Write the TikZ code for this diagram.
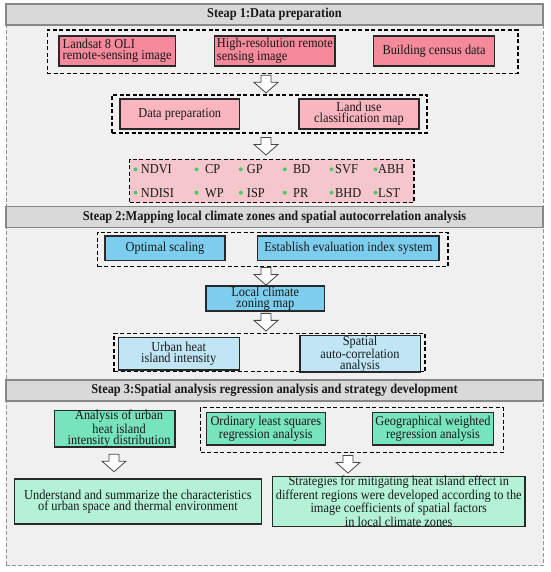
\documentclass[tikz,border=0pt]{standalone}
\usepackage{fontspec}
\setmainfont{Liberation Serif}[FakeStretch=0.91]
\usetikzlibrary{calc}
\usepackage{xcolor}
\definecolor{srcpink}{RGB}{244, 138, 155}
\definecolor{preppink}{RGB}{250, 182, 192}
\definecolor{idxpink}{RGB}{245, 199, 205}
\definecolor{zoneblue}{RGB}{125, 205, 238}
\definecolor{resblue}{RGB}{192, 230, 246}
\definecolor{regmint}{RGB}{120, 228, 190}
\definecolor{outmint}{RGB}{180, 242, 216}
\definecolor{headergray}{RGB}{217, 217, 217}
\definecolor{headerline}{RGB}{135, 135, 135}
\definecolor{panelgray}{RGB}{240, 240, 240}
\definecolor{panelline}{RGB}{150, 150, 150}
\definecolor{boxline}{RGB}{40, 40, 40}
\definecolor{arrowgray}{RGB}{70, 70, 70}
\definecolor{dotgreen}{RGB}{70, 205, 100}
\definecolor{textdark}{RGB}{25, 25, 25}

\begin{document}
\begin{tikzpicture}[
    x=1pt, y=-1pt,
    font=\fontsize{13.6}{10.8}\selectfont,
    text=textdark,
    panel/.style={rectangle, draw=panelline, dash pattern=on 4pt off 2pt, line width=0.8pt, fill=panelgray, inner sep=0pt, minimum width=537pt},
    header/.style={rectangle, draw=headerline, line width=1.2pt, fill=headergray, inner sep=0pt, minimum width=537pt, minimum height=21pt, font=\fontsize{13.6}{10.8}\selectfont\bfseries},
    group/.style={rectangle, draw=black, dash pattern=on 4pt off 2.5pt, line width=1.2pt, inner sep=0pt},
    box/.style={rectangle, draw=boxline, line width=1.3pt, inner xsep=1pt, inner ysep=0pt, align=center},
    dot/.style={circle, fill=dotgreen, minimum size=4pt, inner sep=0pt},
    item/.style={anchor=west, inner sep=0pt, label={[dot, label distance=#1]left:{}}},
    flowarrow/.pic={
        \draw[line width=0.8pt, draw=arrowgray, fill=white] (-5,-8.8) -- (5,-8.8) -- (5,-1.8) -- (12,-1.8) -- (0,8.8) -- (-12,-1.8) -- (-5,-1.8) -- cycle;
    },
]
\useasboundingbox (0,0) rectangle (550,572);

% Panels
\node[panel, minimum height=181pt] (body1) at (274.5,115.5) {};
\node[header] (hdr1) at (274.5,14.5) {Steap 1:Data preparation};
\node[panel, minimum height=152.5pt] (body2) at (274.5,303.75) {};
\node[header] (hdr2) at (274.5,217) {Steap 2:Mapping local climate zones and spatial autocorrelation analysis};
\node[panel, minimum height=164.5pt] (body3) at (274.5,483.25) {};
\node[header] (hdr3) at (274.5,390.5) {Steap 3:Spatial analysis regression analysis and strategy development};

\coordinate (axisA) at (266,0);
\coordinate (axisL) at (114,0);
\coordinate (axisR) at (348,0);

% Step 1: sources
\node[group, minimum width=470.6pt, minimum height=43.3pt] (srcgroup) at (282.7,51.65) {};
\node[box, fill=srcpink, minimum width=116.4pt, minimum height=30pt, align=left] (landsat) at (117.2,51) {Landsat 8 OLI\\remote-sensing image};
\node[box, fill=srcpink, minimum width=120.3pt, minimum height=30pt, align=left] (highres) at (274.85,51) {High-resolution remote\\sensing image};
\node[box, fill=srcpink, minimum width=121pt, minimum height=30pt] (census) at (434.1,51) {Building census data};

% Step 1: preparation
\node[group, minimum width=315pt, minimum height=38pt] (prepgroup) at (269.5,114) {};
\node[box, fill=preppink, minimum width=119.5pt, minimum height=30pt] (dataprep) at (179.75,114) {Data preparation};
\node[box, fill=preppink, minimum width=120pt, minimum height=30pt] (landuse) at (359,114) {Land use\\classification map};

% Step 1: indices
\node[group, fill=idxpink, minimum width=284.2pt, minimum height=43.2pt] (indices) at (271.9,181.1) {};
\node[item=3pt] (ndvi) at (140.7,169.3) {NDVI};
\node[item=6.3pt] (cp) at (205,169.3) {CP};
\node[item=3.7pt] (gp) at (246.7,169.3) {GP};
\node[item=6pt] (bd) at (293,169.3) {BD};
\node[item=1.3pt] (svf) at (335,169.3) {SVF};
\node[item=0.2pt] (abh) at (378,169.3) {ABH};
\node[item=3pt] (ndisi) at (140.7,192.7) {NDISI};
\node[item=6.3pt] (wp) at (205,192.7) {WP};
\node[item=3.7pt] (isp) at (246.7,192.7) {ISP};
\node[item=6pt] (pr) at (293,192.7) {PR};
\node[item=1.3pt] (bhd) at (335,192.7) {BHD};
\node[item=0.2pt] (lst) at (378,192.7) {LST};

\pic at ($(srcgroup.south -| axisA)!0.5!(prepgroup.north -| axisA)$) {flowarrow};
\pic at ($(prepgroup.south -| axisA)!0.5!(indices.north -| axisA)$) {flowarrow};

% Step 2: zoning
\node[group, minimum width=350.5pt, minimum height=34.4pt] (zonegroup) at (272.75,249.5) {};
\node[box, fill=zoneblue, minimum width=120pt, minimum height=24.7pt] (scaling) at (165,248.35) {Optimal scaling};
\node[box, fill=zoneblue, minimum width=181.2pt, minimum height=24.7pt] (indexsys) at (348.4,248.35) {Establish evaluation index system};
\node[box, fill=zoneblue, minimum width=118.4pt, minimum height=25pt] (lczmap) at (265.2,298.5) {Local climate\\zoning map};

% Step 2: results
\node[group, minimum width=311pt, minimum height=38.4pt] (resgroup) at (269.5,352.5) {};
\node[box, fill=resblue, minimum width=121pt, minimum height=32.3pt] (uhi) at (178.7,353.85) {Urban heat\\island intensity};
\node[box, fill=resblue, minimum width=120.3pt, minimum height=32.3pt] (autocorr) at (360,353.85) {Spatial\\auto-correlation\\analysis};

\pic at ($(zonegroup.south -| axisA)!0.5!(lczmap.north -| axisA)$) {flowarrow};
\pic at ($(lczmap.south -| axisA)!0.5!(resgroup.north -| axisA)$) {flowarrow};

% Step 3: analysis
\node[box, fill=regmint, minimum width=120.8pt, minimum height=33.8pt] (distrib) at (114.6,428.6) {\hspace{9pt}Analysis of urban\\\hspace{9pt}heat island\\\hspace{9pt}intensity distribution};
\node[group, minimum width=302.7pt, minimum height=44.6pt] (reggroup) at (351.95,430) {};
\node[box, fill=regmint, minimum width=119.3pt, minimum height=32.3pt] (ols) at (265.85,428.85) {Ordinary least squares\\regression analysis};
\node[box, fill=regmint, minimum width=121pt, minimum height=32.3pt] (gwr) at (433,428.85) {Geographical weighted\\regression analysis};

% Step 3: outcomes
\node[box, fill=outmint, minimum width=246.8pt, minimum height=45pt] (understand) at (137.9,501.5) {Understand and summarize the characteristics\\of urban space and thermal environment\hspace{9pt}};
\node[box, fill=outmint, minimum width=252.5pt, minimum height=44.5pt] (strategy) at (398.75,501.25) {Strategies for mitigating heat island effect in\\different regions were developed according to the\\image coefficients of spatial factors\\in local climate zones};

\pic at ($(distrib.south -| axisL)!0.5!(understand.north -| axisL)$) {flowarrow};
\pic at ($(reggroup.south -| axisR)!0.5!(strategy.north -| axisR)$) {flowarrow};

\end{tikzpicture}
\end{document}
